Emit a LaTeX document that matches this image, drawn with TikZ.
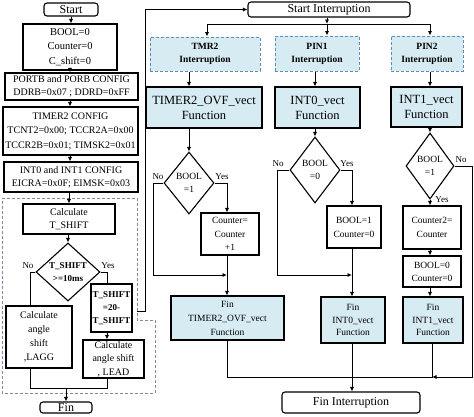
\documentclass[tikz,border=0pt]{standalone}
\usepackage{fontspec}
\setmainfont{Liberation Serif}
\usetikzlibrary{shapes.geometric,arrows.meta}
\definecolor{fillblue}{RGB}{215,235,243}
\definecolor{dashblue}{RGB}{95,140,190}
\definecolor{dashpurple}{RGB}{140,128,172}
\newcommand{\fsz}[2]{\fontsize{#1}{#2}\selectfont}
\begin{document}
\begin{tikzpicture}[x=1pt,y=-1pt,
 box/.style={draw, line width=1.1pt, inner sep=0pt, align=center},
 rbox/.style={box, rounded corners=3pt},
 fbox/.style={box, fill=fillblue},
 ibox/.style={draw=dashblue, dash pattern=on 3pt off 2pt, line width=1pt, fill=fillblue, inner sep=0pt, align=center, font=\bfseries\fsz{9.5}{13}},
 sz/.style 2 args={minimum width=#1pt, minimum height=#2pt},
 dia/.style={draw, diamond, line width=1.1pt, inner sep=0pt},
 line/.style={line width=1pt},
 arr/.style={line, -{Latex[length=4.5pt,width=4.2pt]}},
 lbl/.style={font=\fsz{9}{10}, inner sep=0pt},
]
\useasboundingbox (0,0) rectangle (474,416);

% dashed region
\draw[dashpurple, dash pattern=on 3pt off 2pt, line width=1pt]
  (2,198) -- (137,198) -- (137,320) -- (155,320) -- (155,393) -- (2,393) -- cycle;

% left column
\node[rbox, sz={54}{13}, font=\fsz{12}{14}] (start) at (71,9.5) {Start};
\node[box, sz={94}{46}, font=\fsz{10.5}{14.5}] (init) at (70,47) {BOOL=0\\Counter=0\\C\_shift=0};
\node[box, sz={133}{27}, font=\fsz{10}{12.5}] (portb) at (71.5,86.5) {PORTB and PORB CONFIG\\DDRB=0x07 ; DDRD=0xFF};
\node[box, sz={135}{48}, font=\fsz{10}{14.5}] (timer) at (70.5,131) {TIMER2 CONFIG\\TCNT2=0x00; TCCR2A=0x00\\TCCR2B=0x01; TIMSK2=0x01};
\node[box, sz={134}{30}, font=\fsz{10}{13}] (intc) at (71,177) {INT0 and INT1 CONFIG\\EICRA=0x0F; EIMSK=0x03};
\node[box, sz={92}{30}, font=\fsz{10}{13}] (calc) at (69,219) {Calculate\\T\_SHIFT};
\node[dia, sz={64}{58}] (d1) at (68,272) {};
\node[font=\bfseries\fsz{9}{12.5}, align=center, inner sep=0pt] (d1t) at (d1) {T\_SHIFT\\>=10ms};
\node[box, sz={66}{62}, font=\fsz{10}{14}] (lagg) at (39,337) {Calculate\\angle\\shift\\,LAGG};
\node[box, sz={41}{48}, font=\bfseries\fsz{9}{13.3}] (tsh) at (111.5,308) {T\_SHIFT\\=20-\\T\_SHIFT};
\node[box, sz={61}{38}, font=\fsz{10}{13.3}] (lead) at (113.5,359) {Calculate\\angle shift\\, LEAD};
\node[rbox, sz={52}{11}, font=\fsz{12}{13}] (fin) at (66,407.5) {Fin};

\node[lbl] (l1) at (28,266) {No};
\node[lbl] (l2) at (108,266) {Yes};

\draw[arr] (start.south) -- (start.south |- init.north);
\draw[arr] (init.south) -- (init.south |- portb.north);
\draw[arr] (portb.south -| init.south) -- (timer.north -| init.south);
\draw[arr] (timer.south -| init.south) -- (intc.north -| init.south);
\draw[arr] (intc.south -| calc.north) -- (calc.north);
\draw[arr] (d1.north |- calc.south) -- (d1.north);
\draw[line] (d1.west) -| ([xshift=-9pt]lagg.north);
\draw[line] (d1.east) -| ([xshift=-4.5pt]tsh.north);
\draw[arr] ([xshift=-4.5pt]tsh.south) -- ([xshift=-4.5pt]tsh.south |- lead.north);
\coordinate (mL) at (30,388);
\coordinate (mR) at (107,388);
\draw[line] (lagg.south -| mL) -- (mL) -- (mR) -- (lead.south -| mR);
\draw[arr] (fin.north |- mL) -- (fin.north);

% interruption part
\node[rbox, sz={162}{15}, font=\fsz{12}{14}] (sint) at (329,9.5) {Start Interruption};
\coordinate (sl) at (137,311);
\coordinate (sc) at (145,311);
\draw[arr] (sl) -- (sc) |- (sint.west);

\node[ibox, sz={110}{34}] (tmr) at (205,54) {TMR2\\Interruption};
\node[ibox, sz={84}{35}] (pin1) at (317,53.5) {PIN1\\Interruption};
\node[ibox, sz={72}{35}] (pin2) at (427,53.5) {PIN2\\Interruption};

\coordinate (br) at (327,24);
\coordinate (bl) at (207,24);
\coordinate (brr) at (430,24);
\draw[arr] (br |- sint.south) -- (br);
\draw[arr] (br) -- (br |- pin1.north);
\draw[line] (bl) -- (brr);
\draw[arr] (bl) -- (bl |- tmr.north);
\draw[arr] (brr) -- (brr |- pin2.north);

\node[fbox, sz={116}{41}, font=\fsz{12.5}{15}] (f2) at (204,107.5) {TIMER2\_OVF\_vect\\Function};
\node[fbox, sz={85}{41}, font=\fsz{12.5}{15}] (f3) at (317.5,107.5) {INT0\_vect\\Function};
\node[fbox, sz={71}{40}, font=\fsz{12.5}{15}] (f4) at (426.5,107) {INT1\_vect\\Function};

\node[dia, sz={50}{62}] (d2) at (189,183) {};
\node[font=\fsz{9.5}{13}, align=center, inner sep=0pt] (d2t) at (d2) {BOOL\\=1};
\node[dia, sz={50}{66}] (d3) at (315,170) {};
\node[font=\fsz{9.5}{13}, align=center, inner sep=0pt] (d3t) at (d3) {BOOL\\=0};
\node[dia, sz={48}{66}] (d4) at (430,166) {};
\node[font=\fsz{9.5}{13}, align=center, inner sep=0pt] (d4t) at (d4) {BOOL\\=1};

\draw[arr] (d2.north |- tmr.south) -- (d2.north |- f2.north);
\draw[arr] (d2.north |- f2.south) -- (d2.north);
\draw[arr] (d3.north |- pin1.south) -- (d3.north |- f3.north);
\draw[arr] (d3.north |- f3.south) -- (d3.north);
\draw[arr] (d4.north |- pin2.south) -- (d4.north |- f4.north);
\draw[arr] (d4.north |- f4.south) -- (d4.north);

% TMR2 column
\node[box, sz={58}{42}, font=\fsz{9.5}{13.7}] (cnt) at (230,234) {Counter=\\Counter\\+1};
\node[fbox, sz={113}{44}, font=\fsz{9.5}{14}] (fin2) at (227.5,318) {Fin\\TIMER2\_OVF\_vect\\Function};
\node[lbl] (l3) at (158,177) {No};
\node[lbl] (l4) at (222,177) {Yes};
\coordinate (n2) at (153,183);
\coordinate (j2) at (227,275);
\draw[arr] (d2.west) -- (n2) |- (j2);
\draw[arr] (d2.east) -| (cnt.north -| j2);
\draw[arr] (cnt.south -| j2) -- (fin2.north -| j2);

% INT0 column
\node[box, sz={54}{42}, font=\fsz{9.5}{14}] (b1) at (354,227) {BOOL=1\\Counter=0};
\node[fbox, sz={64}{46}, font=\fsz{9.5}{12.5}] (fin3) at (353,320) {Fin\\INT0\_vect\\Function};
\node[rbox, sz={138}{21}, font=\fsz{12}{14}] (fint) at (351,402.5) {Fin Interruption};
\node[lbl] (l5) at (278,164) {No};
\node[lbl] (l6) at (347,164) {Yes};
\coordinate (n3) at (277,170);
\coordinate (j3) at (352,275);
\draw[arr] (d3.west) -- (n3) |- (j3);
\draw[arr] (d3.east) -| (b1.north -| j3);
\draw[arr] (b1.south -| j3) -- (fin3.north -| j3);
\draw[arr] (fin3.south -| j3) -- (fint.north -| j3);
\coordinate (m0) at (352,377);
\draw[line] (fin2.south -| j2) |- (m0);

% INT1 column
\node[box, sz={58}{43}, font=\fsz{9.5}{14}] (c2b) at (432,227.5) {Counter2=\\Counter};
\node[box, sz={58}{31}, font=\fsz{9.5}{13}] (b0) at (432,271.5) {BOOL=0\\Counter=0};
\node[fbox, sz={60}{46}, font=\fsz{9.5}{12.5}] (fin4) at (433,320) {Fin\\INT1\_vect\\Function};
\node[lbl] (l7) at (442,200) {Yes};
\node[lbl] (l8) at (461,160) {No};
\draw[arr] (d4.south) -- (d4.south |- c2b.north);
\draw[arr] (d4.south |- c2b.south) -- (d4.south |- b0.north);
\draw[arr] (d4.south |- b0.south) -- (d4.south |- fin4.north);
\coordinate (m4) at (432,377);
\coordinate (n4) at (472,166);
\draw[line] (fin4.south -| m4) -- (m4) -- (m0);
\draw[arr] (d4.east) -- (n4) |- (m4);
\end{tikzpicture}
\end{document}
